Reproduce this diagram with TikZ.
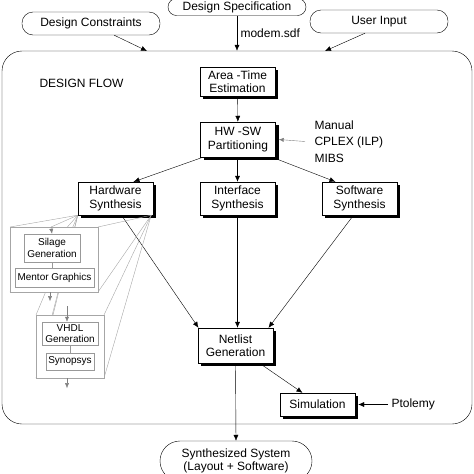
\documentclass[tikz,border=0pt]{standalone}
\usepackage{fontspec}
\setmainfont{Liberation Sans}
\usetikzlibrary{arrows.meta,shadows}

\tikzset{
    pill/.style={draw, rounded corners=11pt, minimum width=138pt, minimum height=23pt, inner sep=0pt},
    stepbox/.style={draw, fill=white, inner sep=0pt, minimum width=75pt, minimum height=33pt, align=center,
        drop shadow={shadow xshift=3pt, shadow yshift=-3pt, fill=black, opacity=1}},
    zoombox/.style={draw=gray!70, fill=white, inner sep=0pt},
    subbox/.style={draw=gray!80, fill=white, inner sep=0pt, align=center, font=\fontsize{10}{11.5}\selectfont},
    flow/.style={-{Latex[length=6pt,width=5pt]}},
    grayflow/.style={gray, -{Latex[length=5pt,width=4pt]}},
    fan/.style={gray!70, thin}
}

\begin{document}
\begin{tikzpicture}[x=1pt, y=-1pt, font=\fontsize{12}{13.5}\selectfont]
    \useasboundingbox (0,0) rectangle (474,474);

    % Inputs at the top
    \node[pill, minimum height=17pt, rounded corners=8.5pt] (spec) at (237,7) {Design Specification};
    \node[pill] (cons) at (91,23.5) {Design Constraints};
    \node[pill] (user) at (379,21.5) {User Input};

    % The design flow frame
    \node[draw, rounded corners=20pt, minimum width=470pt, minimum height=373pt] (frame) at (237,237.5) {};
    \node[anchor=west] (title) at (36,83) {DESIGN FLOW};

    \coordinate (consin) at (147,51);
    \coordinate (userin) at (325,51);
    \draw[flow] (cons.south east) ++(-46,0) coordinate (consout) -- (consin);
    \draw[flow] (spec.south) -- (spec.south |- frame.north) node[midway, right] {modem.sdf};
    \draw[flow] (user.south) ++(-14,0) coordinate (userout) -- (userin);

    % Main steps
    \node[stepbox, minimum height=29pt] (area) at (237.5,81.5) {Area -Time\\Estimation};
    \node[stepbox, minimum height=35pt] (part) at (238,139.5) {HW -SW\\Partitioning};
    \node[stepbox] (hw) at (115.5,198.5) {Hardware\\Synthesis};
    \node[stepbox] (intf) at (237.5,198.5) {Interface\\Synthesis};
    \node[stepbox] (sw) at (359.5,198.5) {Software\\Synthesis};
    \node[stepbox, minimum height=35pt] (net) at (235.5,345.5) {Netlist\\Generation};
    \node[stepbox, minimum height=23pt] (sim) at (317.5,404.5) {Simulation};

    % Side inputs
    \node[anchor=west, align=left, font=\fontsize{12}{16.5}\selectfont] (tools) at (311,141.5) {Manual\\ CPLEX (ILP)\\MIBS};
    \node[anchor=west] (ptol) at (388,404.5) {Ptolemy};

    \draw[flow] (area) -- (part);
    \draw[grayflow] (tools.west) ++(-6,0) -- ([xshift=3pt]part.east);
    \draw[flow] ([xshift=-35pt]part.south) -- ([xshift=18pt]hw.north);
    \draw[flow] (part.south -| intf.north) -- (intf.north);
    \draw[flow] ([xshift=34pt]part.south) -- ([xshift=-24pt]sw.north);

    \draw[flow] ([xshift=6pt]hw.south) -- ([xshift=-37pt]net.north);
    \draw[flow] (intf.south) -- (intf.south |- net.north);
    \draw[flow] ([xshift=-6pt]sw.south) -- ([xshift=33pt]net.north);
    \draw[flow] ([xshift=24pt]net.south) -- ([xshift=-15pt]sim.north);
    \draw[flow] (ptol.west) -- ([xshift=3pt]sim.east);

    % Zoomed view of hardware synthesis
    \coordinate (vtop) at (53,315);
    \coordinate (silin) at (51,227);
    \foreach \t in {(10,292), (36,315), (36,378), (vtop), (silin)} {
        \draw[fan] (hw.south west) -- \t;
    }
    \draw[fan] (hw.south west) -- (10,227);
    \foreach \t in {(98,227), (98,292), (104,315), (104,378)} {
        \draw[fan] ([xshift=-2pt]hw.south east) -- \t;
    }

    \node[zoombox, minimum width=88pt, minimum height=65pt] (silbox) at (54,259.5) {};
    \node[subbox, minimum width=56pt, minimum height=28pt] (silgen) at (52,248) {Silage\\Generation};
    \node[subbox, minimum width=79pt, minimum height=19pt] (mentor) at (54.5,277.5) {Mentor Graphics};
    \draw[gray!80] (silgen) -- (silgen |- mentor.north);
    \draw[grayflow] (silin) -- (silgen.north);
    \draw[grayflow] (silbox.south -| 50,0) -- ++(0,9);

    \node[zoombox, minimum width=68pt, minimum height=63pt] (vbox) at (70,346.5) {};
    \node[subbox, minimum width=56pt, minimum height=23pt] (vhdl) at (70,333.5) {VHDL\\Generation};
    \node[subbox, minimum width=48pt, minimum height=17pt] (syn) at (70,361.5) {Synopsys};
    \draw[gray!80] (vhdl) -- (syn);
    \coordinate (vin) at (67,306);
    \draw[grayflow] (vin) -- (vin |- vhdl.north);
    \draw[grayflow] (vbox.south -| 67,0) -- ++(0,10);

    % Result
    \node[draw, rounded corners=20pt, minimum width=152pt, minimum height=40pt, align=center] (result) at (236,461) {Synthesized System\\(Layout + Software)};
    \draw[flow] (net.south) -- (result.north);
\end{tikzpicture}
\end{document}
